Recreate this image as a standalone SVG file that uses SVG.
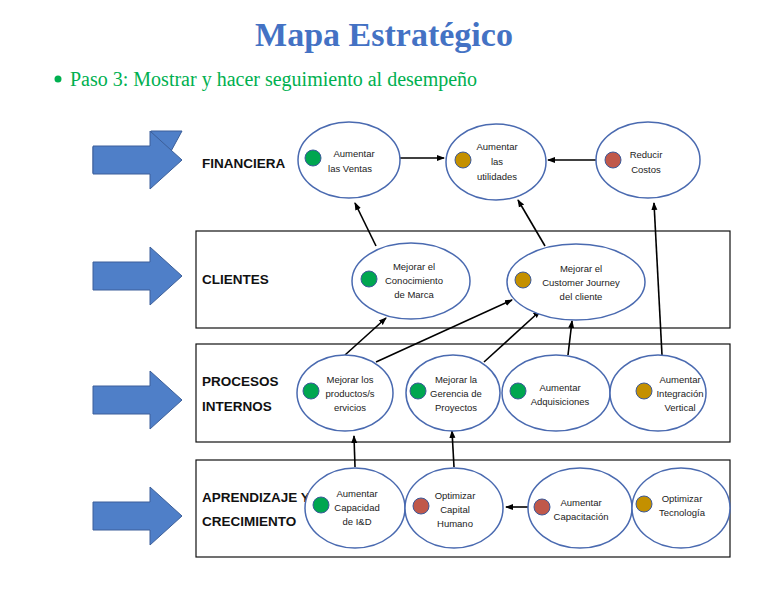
<svg xmlns="http://www.w3.org/2000/svg" width="768" height="594" viewBox="0 0 768 594">
<style>
.n{fill:#fff;stroke:#4a6ab0;stroke-width:1.5}
.t{font-family:"Liberation Sans",Arial,sans-serif;font-size:9.5px;fill:#222;text-anchor:middle}
.h{font-family:"Liberation Sans",Arial,sans-serif;font-size:13.5px;font-weight:bold;fill:#111}
.g{fill:#00a650;stroke:#3c5a9a;stroke-width:1}
.o{fill:#c49000;stroke:#3c5a9a;stroke-width:1}
.r{fill:#c0584a;stroke:#3c5a9a;stroke-width:1}
.box{fill:none;stroke:#111;stroke-width:1.2}
.ba{fill:#4f7fc8;stroke:#3c5f9a;stroke-width:1}
.c line{stroke:#000;stroke-width:1.6;marker-end:url(#ah)}
</style>
<defs>
<marker id="ah" markerWidth="8" markerHeight="8" refX="7" refY="4" orient="auto" markerUnits="userSpaceOnUse"><path d="M0,1 L8,4 L0,7z" fill="#000"/></marker>
<path id="bigarrow" d="M0,-13 H57 V-29 H89 L57... " />
</defs>
<rect width="768" height="594" fill="#fff"/>
<text x="384" y="46" text-anchor="middle" font-family="Liberation Serif,serif" font-size="34" font-weight="bold" fill="#4472c4">Mapa Estratégico</text>
<circle cx="58" cy="79" r="3.5" fill="#00b050"/>
<text x="70" y="86" font-family="Liberation Serif,serif" font-size="20" fill="#00b050">Paso 3: Mostrar y hacer seguimiento al desempeño</text>

<g id="bigarrows">
<path class="ba" d="M93,147 H151 V131 H182 L151,188 V173 H93Z" transform="translate(0,0)"/>
</g>
<path class="ba" d="M93,146 H150 V131 L182,160 L150,189 V174 H93Z"/>
<path class="ba" d="M93,262 H150 V247 L182,276 L150,305 V290 H93Z"/>
<path class="ba" d="M93,386 H150 V371 L182,400 L150,429 V414 H93Z"/>
<path class="ba" d="M93,502 H150 V487 L182,516 L150,545 V530 H93Z"/>

<rect class="box" x="196" y="231" width="534" height="97"/>
<rect class="box" x="196" y="344" width="534" height="98"/>
<rect class="box" x="196" y="460" width="534" height="97"/>

<text class="h" x="202" y="168">FINANCIERA</text>
<text class="h" x="202" y="284">CLIENTES</text>
<text class="h" x="202" y="386">PROCESOS</text>
<text class="h" x="202" y="411">INTERNOS</text>
<text class="h" x="202" y="502">APRENDIZAJE Y</text>
<text class="h" x="202" y="526">CRECIMIENTO</text>

<g class="c" id="connectors">
<line x1="400" y1="158" x2="444" y2="158"/>
<line x1="596" y1="160" x2="548" y2="160"/>
<line x1="376" y1="246" x2="355" y2="203"/>
<line x1="545" y1="246" x2="518" y2="200"/>
<line x1="662" y1="355" x2="654" y2="203"/>
<line x1="345" y1="355" x2="386" y2="318"/>
<line x1="376" y1="362" x2="512" y2="300"/>
<line x1="484" y1="362" x2="540" y2="311"/>
<line x1="568" y1="355" x2="572" y2="321"/>
<line x1="610" y1="389" x2="630" y2="389"/>
<line x1="355" y1="467" x2="354" y2="436"/>
<line x1="454" y1="467" x2="452" y2="431"/>
<line x1="528" y1="507" x2="506" y2="507"/>
</g>

<g id="F1"><ellipse class="n" cx="349" cy="160" rx="51" ry="38"/><circle class="g" cx="313" cy="158" r="8"/><text class="t"><tspan x="354" y="157">Aumentar</tspan><tspan x="350" y="172">las Ventas</tspan></text></g>
<g id="F2"><ellipse class="n" cx="496" cy="162" rx="50" ry="38"/><circle class="o" cx="463" cy="160" r="8"/><text class="t"><tspan x="497" y="150">Aumentar</tspan><tspan x="497" y="165">las</tspan><tspan x="497" y="180">utilidades</tspan></text></g>
<g id="F3"><ellipse class="n" cx="648" cy="160" rx="52" ry="38"/><circle class="r" cx="613" cy="160" r="8"/><text class="t"><tspan x="646" y="158">Reducir</tspan><tspan x="646" y="173">Costos</tspan></text></g>

<g id="C1"><ellipse class="n" cx="411" cy="281" rx="59" ry="38"/><circle class="g" cx="369" cy="279" r="8"/><text class="t"><tspan x="414" y="270">Mejorar el</tspan><tspan x="414" y="284">Conocimiento</tspan><tspan x="414" y="298">de Marca</tspan></text></g>
<g id="C2"><ellipse class="n" cx="576" cy="282" rx="69" ry="38"/><circle class="o" cx="523" cy="280" r="8"/><text class="t"><tspan x="581" y="272">Mejorar el</tspan><tspan x="581" y="286">Customer Journey</tspan><tspan x="581" y="300">del cliente</tspan></text></g>

<g id="P1"><ellipse class="n" cx="345" cy="393" rx="48" ry="38"/><circle class="g" cx="311" cy="391" r="8"/><text class="t"><tspan x="350" y="383">Mejorar los</tspan><tspan x="350" y="397">productos/s</tspan><tspan x="350" y="411">ervicios</tspan></text></g>
<g id="P2"><ellipse class="n" cx="453" cy="393" rx="47" ry="38"/><circle class="g" cx="418" cy="391" r="8"/><text class="t"><tspan x="456" y="383">Mejorar la</tspan><tspan x="456" y="397">Gerencia de</tspan><tspan x="456" y="411">Proyectos</tspan></text></g>
<g id="P3"><ellipse class="n" cx="556" cy="393" rx="54" ry="38"/><circle class="g" cx="518" cy="391" r="8"/><text class="t"><tspan x="560" y="391">Aumentar</tspan><tspan x="560" y="405">Adquisiciones</tspan></text></g>
<g id="P4"><ellipse class="n" cx="658" cy="393" rx="48" ry="38"/><circle class="o" cx="644" cy="391" r="8"/><text class="t"><tspan x="680" y="383">Aumentar</tspan><tspan x="680" y="397">Integración</tspan><tspan x="680" y="411">Vertical</tspan></text></g>

<g id="A1"><ellipse class="n" cx="355" cy="508" rx="50" ry="40"/><circle class="g" cx="321" cy="505" r="8"/><text class="t"><tspan x="357" y="497">Aumentar</tspan><tspan x="357" y="511">Capacidad</tspan><tspan x="357" y="525">de I&amp;D</tspan></text></g>
<g id="A2"><ellipse class="n" cx="454" cy="508" rx="49" ry="40"/><circle class="r" cx="421" cy="506" r="8"/><text class="t"><tspan x="455" y="499">Optimizar</tspan><tspan x="455" y="513">Capital</tspan><tspan x="455" y="527">Humano</tspan></text></g>
<g id="A3"><ellipse class="n" cx="580" cy="508" rx="52" ry="40"/><circle class="r" cx="542" cy="507" r="8"/><text class="t"><tspan x="581" y="506">Aumentar</tspan><tspan x="581" y="520">Capacitación</tspan></text></g>
<g id="A4"><ellipse class="n" cx="681" cy="508" rx="49" ry="40"/><circle class="o" cx="644" cy="504" r="8"/><text class="t"><tspan x="682" y="502">Optimizar</tspan><tspan x="682" y="516">Tecnología</tspan></text></g>
</svg>
